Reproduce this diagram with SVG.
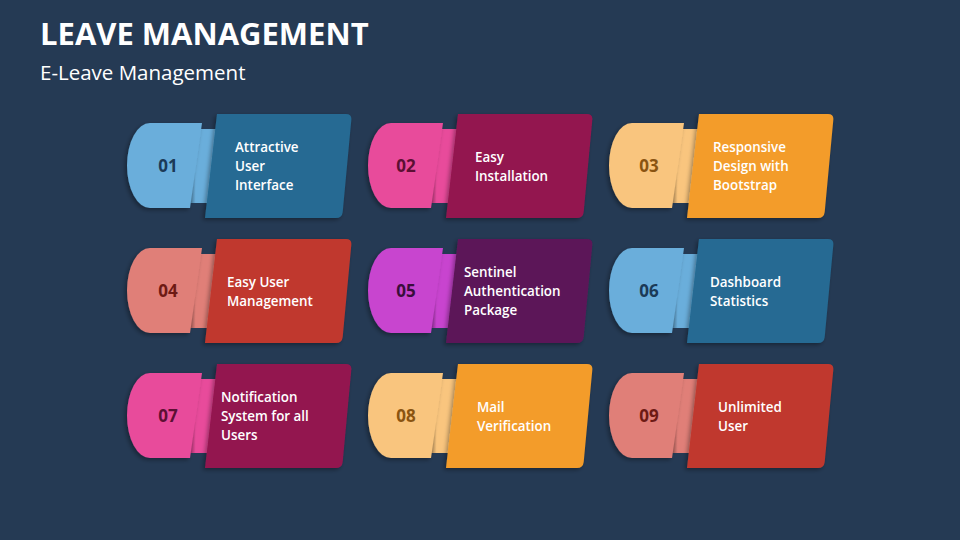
<svg xmlns="http://www.w3.org/2000/svg" width="960" height="540" viewBox="0 0 960 540">
<defs>
<style>
.title{font-family:"Open Sans","Liberation Sans",sans-serif;font-weight:700;font-size:31px;fill:#ffffff}
.sub{font-family:"Open Sans","Liberation Sans",sans-serif;font-weight:500;font-size:20.5px;fill:#ffffff}
.lbl{font-family:"Open Sans","Liberation Sans",sans-serif;font-weight:600;font-size:13.4px;fill:#ffffff}
.num{font-family:"Open Sans","Liberation Sans",sans-serif;font-weight:700;font-size:17px;text-anchor:middle}
.blue .tab,.blue .strip{fill:#6aaedb}.blue .card{fill:#256b93}.blue .num{fill:#1b3a57}
.pink .tab,.pink .strip{fill:#e84b9b}.pink .card{fill:#93164f}.pink .num{fill:#5c0f33}
.orange .tab,.orange .strip{fill:#f9c57e}.orange .card{fill:#f39c2a}.orange .num{fill:#8a5411}
.red .tab,.red .strip{fill:#e07f78}.red .card{fill:#c0392f}.red .num{fill:#6d1a14}
.purple .tab,.purple .strip{fill:#c844cf}.purple .card{fill:#5b1958}.purple .num{fill:#3a0e3b}
</style>
<linearGradient id="shade" x1="0" y1="0" x2="1" y2="0">
<stop offset="0" stop-color="#000" stop-opacity="0.5"/>
<stop offset="0.22" stop-color="#000" stop-opacity="0"/>
<stop offset="0.8" stop-color="#000" stop-opacity="0"/>
<stop offset="1" stop-color="#000" stop-opacity="0.3"/>
</linearGradient>
<filter id="sh" x="-10%" y="-10%" width="120%" height="125%">
<feDropShadow dx="-2" dy="2" stdDeviation="2" flood-color="#000" flood-opacity="0.35"/>
</filter>
<path id="stripPath" d="M199,129 L223,129 L212,203 L188,203 Z"/>
<path id="stripShade" d="M199,129 L223,129 L212,203 L188,203 Z" fill="url(#shade)"/>
<path id="tabPath" d="M150,123 L202,123 L190,208 L150,208 A23,42.5 0 0 1 150,123 Z"/>
<path id="cardPath" d="M217,114 L346,114 Q352,114 351.3,120 L342.7,212 Q342,218 336,218 L205,218 Z"/>
</defs>
<rect width="960" height="540" fill="#253a54"/>
<text class="title" x="40" y="45">LEAVE MANAGEMENT</text>
<text class="sub" x="40" y="80">E-Leave Management</text>

<g id="connectors"></g>

<g id="node01" class="blue">
<use href="#stripPath" class="strip"/><use href="#stripShade"/>
<use href="#tabPath" class="tab" filter="url(#sh)"/>
<use href="#cardPath" class="card" filter="url(#sh)"/>
<text class="num" x="168" y="172">01</text>
<text class="lbl" x="235" y="152">Attractive</text>
<text class="lbl" x="235" y="171">User</text>
<text class="lbl" x="235" y="190">Interface</text>
</g>

<g id="node02" class="pink" transform="translate(241,0)">
<use href="#stripPath" class="strip"/><use href="#stripShade"/>
<use href="#tabPath" class="tab" filter="url(#sh)"/>
<use href="#cardPath" class="card" filter="url(#sh)"/>
<text class="num" x="165" y="172">02</text>
<text class="lbl" x="234" y="162">Easy</text>
<text class="lbl" x="234" y="181">Installation</text>
</g>

<g id="node03" class="orange" transform="translate(482,0)">
<use href="#stripPath" class="strip"/><use href="#stripShade"/>
<use href="#tabPath" class="tab" filter="url(#sh)"/>
<use href="#cardPath" class="card" filter="url(#sh)"/>
<text class="num" x="167" y="172">03</text>
<text class="lbl" x="231" y="152">Responsive</text>
<text class="lbl" x="231" y="171">Design with</text>
<text class="lbl" x="231" y="190">Bootstrap</text>
</g>

<g id="node04" class="red" transform="translate(0,125)">
<use href="#stripPath" class="strip"/><use href="#stripShade"/>
<use href="#tabPath" class="tab" filter="url(#sh)"/>
<use href="#cardPath" class="card" filter="url(#sh)"/>
<text class="num" x="168" y="172">04</text>
<text class="lbl" x="227" y="162">Easy User</text>
<text class="lbl" x="227" y="181">Management</text>
</g>

<g id="node05" class="purple" transform="translate(241,125)">
<use href="#stripPath" class="strip"/><use href="#stripShade"/>
<use href="#tabPath" class="tab" filter="url(#sh)"/>
<use href="#cardPath" class="card" filter="url(#sh)"/>
<text class="num" x="165" y="172">05</text>
<text class="lbl" x="223" y="152">Sentinel</text>
<text class="lbl" x="223" y="171">Authentication</text>
<text class="lbl" x="223" y="190">Package</text>
</g>

<g id="node06" class="blue" transform="translate(482,125)">
<use href="#stripPath" class="strip"/><use href="#stripShade"/>
<use href="#tabPath" class="tab" filter="url(#sh)"/>
<use href="#cardPath" class="card" filter="url(#sh)"/>
<text class="num" x="167" y="172">06</text>
<text class="lbl" x="228" y="162">Dashboard</text>
<text class="lbl" x="228" y="181">Statistics</text>
</g>

<g id="node07" class="pink" transform="translate(0,250)">
<use href="#stripPath" class="strip"/><use href="#stripShade"/>
<use href="#tabPath" class="tab" filter="url(#sh)"/>
<use href="#cardPath" class="card" filter="url(#sh)"/>
<text class="num" x="168" y="172">07</text>
<text class="lbl" x="221" y="152">Notification</text>
<text class="lbl" x="221" y="171">System for all</text>
<text class="lbl" x="221" y="190">Users</text>
</g>

<g id="node08" class="orange" transform="translate(241,250)">
<use href="#stripPath" class="strip"/><use href="#stripShade"/>
<use href="#tabPath" class="tab" filter="url(#sh)"/>
<use href="#cardPath" class="card" filter="url(#sh)"/>
<text class="num" x="165" y="172">08</text>
<text class="lbl" x="236" y="162">Mail</text>
<text class="lbl" x="236" y="181">Verification</text>
</g>

<g id="node09" class="red" transform="translate(482,250)">
<use href="#stripPath" class="strip"/><use href="#stripShade"/>
<use href="#tabPath" class="tab" filter="url(#sh)"/>
<use href="#cardPath" class="card" filter="url(#sh)"/>
<text class="num" x="167" y="172">09</text>
<text class="lbl" x="236" y="162">Unlimited</text>
<text class="lbl" x="236" y="181">User</text>
</g>
</svg>
